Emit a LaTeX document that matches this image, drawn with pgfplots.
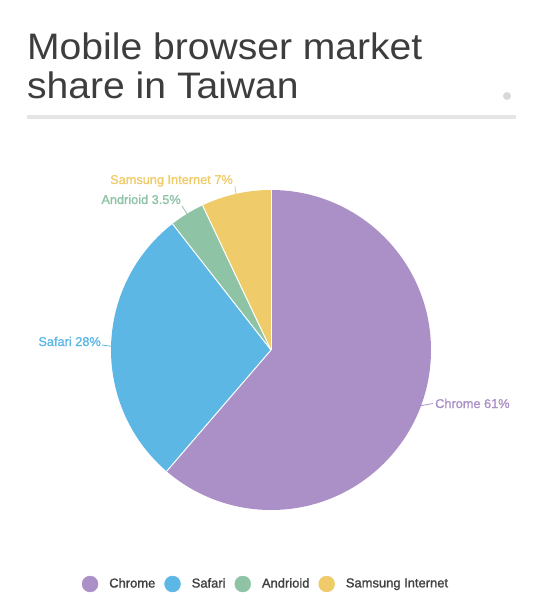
\documentclass[border=0pt]{standalone}
\usepackage{pgfplots}
\pgfplotsset{compat=1.18}
\usepackage{pgfplotstable}
\usepackage{fontspec}
\setmainfont{Liberation Sans}
\newfontfamily\titlefont{Liberation Sans}[FakeStretch=1.06]
\newfontfamily\lblfont{Liberation Sans}[FakeBold=1.3]
\definecolor{cChrome}{HTML}{AB90C7}
\definecolor{cSafari}{HTML}{5DB7E5}
\definecolor{cAndroid}{HTML}{8EC3A6}
\definecolor{cSamsung}{HTML}{F0CB6A}
\definecolor{titlegray}{HTML}{3D3D3D}
\definecolor{textgray}{HTML}{404040}
\definecolor{rulegray}{HTML}{E5E5E5}
\definecolor{dotgray}{HTML}{D8D8D8}

\pgfplotstableread{
name value
Chrome 61
Safari 28
Andrioid 3.5
Samsung 7
}\piedata
\pgfplotstablegetelem{0}{value}\of\piedata \let\vA\pgfplotsretval
\pgfplotstablegetelem{1}{value}\of\piedata \let\vB\pgfplotsretval
\pgfplotstablegetelem{2}{value}\of\piedata \let\vC\pgfplotsretval
\pgfplotstablegetelem{3}{value}\of\piedata \let\vD\pgfplotsretval
\pgfmathsetmacro\tot{\vA+\vB+\vC+\vD}
\pgfmathsetmacro\aA{90}
\pgfmathsetmacro\aB{\aA-360*(\vA/\tot)}
\pgfmathsetmacro\aC{\aB-360*(\vB/\tot)}
\pgfmathsetmacro\aD{\aC-360*(\vC/\tot)}
\pgfmathsetmacro\aE{\aD-360*(\vD/\tot)}
\pgfmathsetmacro\mA{(\aA+\aB)/2}
\pgfmathsetmacro\mB{(\aB+\aC)/2}
\pgfmathsetmacro\mC{(\aC+\aD)/2}
\pgfmathsetmacro\mD{(\aD+\aE)/2}

\begin{document}
\begin{tikzpicture}
\begin{axis}[
  at={(0,0)}, anchor=south west,
  x=1bp, y=1bp, scale only axis,
  xmin=0, xmax=542, ymin=0, ymax=615,
  hide axis, clip=false,
  legend columns=4,
  legend style={
    at={(axis description cs:0.4889,0.0504)}, anchor=center,
    draw=none, fill=none,
    font=\lblfont\fontsize{13}{15}\selectfont, text=textgray,
    nodes={inner sep=0pt},
    /tikz/every odd column/.append style={column sep=11bp},
    /tikz/every even column/.append style={column sep=9bp},
  },
]
% title
\node[anchor=base west, inner sep=0, text=titlegray,
  font=\titlefont\fontsize{37}{40}\selectfont] at (axis cs:27,555) {Mobile browser market};
\node[anchor=base west, inner sep=0, text=titlegray,
  font=\titlefont\fontsize{37}{40}\selectfont] at (axis cs:27,516.7) {share in Taiwan};
\fill[rulegray] (axis cs:27,496) rectangle (axis cs:516,500);
\fill[dotgray] (axis cs:507,519) circle (4bp);

% pie wedges
\fill[cChrome] (axis cs:271,265) -- ++(\aA:160bp) arc[start angle=\aA, end angle=\aB, radius=160bp] -- cycle;
\fill[cSafari] (axis cs:271,265) -- ++(\aB:160bp) arc[start angle=\aB, end angle=\aC, radius=160bp] -- cycle;
\fill[cAndroid] (axis cs:271,265) -- ++(\aC:160bp) arc[start angle=\aC, end angle=\aD, radius=160bp] -- cycle;
\fill[cSamsung] (axis cs:271,265) -- ++(\aD:160bp) arc[start angle=\aD, end angle=\aE, radius=160bp] -- cycle;
\draw[white, line width=1bp] (axis cs:271,265) -- ++(\aA:160bp);
\draw[white, line width=1bp] (axis cs:271,265) -- ++(\aB:160bp);
\draw[white, line width=1bp] (axis cs:271,265) -- ++(\aC:160bp);
\draw[white, line width=1bp] (axis cs:271,265) -- ++(\aD:160bp);

% labels with leader lines
\draw[cChrome, line width=0.8bp] (axis cs:271,265) ++(\mA:160bp) -- (axis cs:433,211.5);
\node[anchor=base west, inner sep=0, text=cChrome, font=\lblfont\fontsize{12.8}{14}\selectfont]
  at (axis cs:435,207) {Chrome 61\%};
\draw[cSafari, line width=0.8bp] (axis cs:271,265) ++(\mB:160bp) -- (axis cs:102,270);
\node[anchor=base east, inner sep=0, text=cSafari, font=\lblfont\fontsize{12.8}{14}\selectfont]
  at (axis cs:101,269) {Safari 28\%};
\draw[cAndroid, line width=0.8bp] (axis cs:271,265) ++(\mC:160bp) -- (axis cs:182,409);
\node[anchor=base east, inner sep=0, text=cAndroid, font=\lblfont\fontsize{12.8}{14}\selectfont]
  at (axis cs:181,411) {Andrioid 3.5\%};
\draw[cSamsung, line width=0.8bp] (axis cs:271,265) ++(\mD:160bp) -- (axis cs:235,429);
\node[anchor=base east, inner sep=0, text=cSamsung, font=\lblfont\fontsize{12.8}{14}\selectfont]
  at (axis cs:233,431) {Samsung Internet 7\%};

% legend
\addlegendimage{legend image code/.code={\fill[cChrome] (8bp,-0.4bp) circle (8bp);}}
\addlegendentry{Chrome}
\addlegendimage{legend image code/.code={\fill[cSafari] (8bp,-0.4bp) circle (8bp);}}
\addlegendentry{Safari}
\addlegendimage{legend image code/.code={\fill[cAndroid] (8bp,-0.4bp) circle (8bp);}}
\addlegendentry{Andrioid}
\addlegendimage{legend image code/.code={\fill[cSamsung] (8bp,-0.4bp) circle (8bp);}}
\addlegendentry{Samsung Internet}
\end{axis}
\pgfresetboundingbox
\useasboundingbox (0,0) rectangle (542bp,615bp);
\end{tikzpicture}%
\end{document}
